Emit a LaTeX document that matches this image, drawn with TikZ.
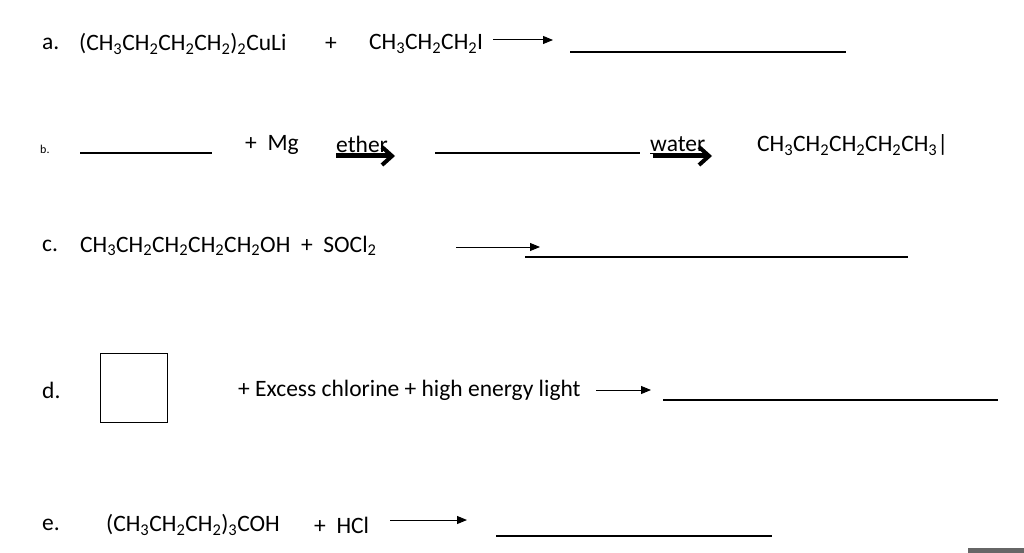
\documentclass[tikz,border=0pt]{standalone}
\usepackage{fontspec}
\setmainfont{Carlito}
\usetikzlibrary{arrows.meta}
\newcommand{\chsub}[1]{\textsubscript{#1}}
\begin{document}
\begin{tikzpicture}[x=1pt,y=-1pt,
 txt/.style={anchor=west,inner sep=0pt,font=\fontsize{23.5}{26}\selectfont},
 blank/.style={line width=1.2pt},
 arr/.style={line width=1pt,-{Triangle[length=10pt,width=8pt]}},
 thick arr/.style={line width=5pt,-{Straight Barb[length=10pt,width=18pt,line width=4pt]}}]
\useasboundingbox (0,0) rectangle (1024,553);
\fill[gray!80!black] (968,548) rectangle (1024,553);
% a
\node[txt] (la) at (42,44) {a.};
\node[txt] (a1) at (79,44) {(CH\chsub{3}CH\chsub{2}CH\chsub{2}CH\chsub{2})\chsub{2}CuLi};
\node[txt] (ap) at (325,44) {+};
\node[txt] (a2) at (369,44) {CH\chsub{3}CH\chsub{2}CH\chsub{2}I};
\coordinate (aa1) at (493,40); \coordinate (aa2) at (553,40);
\draw[arr] (aa1) -- (aa2);
\coordinate (al1) at (570,52); \coordinate (al2) at (846,52);
\draw[blank] (al1) -- (al2);
% b
\node[txt,font=\fontsize{12}{14}\selectfont] (lb) at (40,149) {b.};
\coordinate (bl1) at (80,153); \coordinate (bl2) at (212,153);
\draw[blank] (bl1) -- (bl2);
\node[txt] (bmg) at (245,145) {+~~Mg};
\node[txt] (beth) at (336,145) {\underline{ether}};
\coordinate (ba1) at (336,156); \coordinate (ba2) at (395,156);
\draw[thick arr] (ba1) -- (ba2);
\coordinate (bl3) at (435,153); \coordinate (bl4) at (640,153);
\draw[blank] (bl3) -- (bl4);
\node[txt] (bw) at (650,145) {\underline{water}};
\coordinate (bw1) at (653,156); \coordinate (bw2) at (712,156);
\draw[thick arr] (bw1) -- (bw2);
\node[txt] (bprod) at (757,145) {CH\chsub{3}CH\chsub{2}CH\chsub{2}CH\chsub{2}CH\chsub{3}|};
% c
\node[txt] (lc) at (42,246) {c.};
\node[txt] (c1) at (80,246) {CH\chsub{3}CH\chsub{2}CH\chsub{2}CH\chsub{2}CH\chsub{2}OH~~+~~SOCl\chsub{2}};
\coordinate (ca1) at (456,247); \coordinate (ca2) at (540,247);
\draw[arr] (ca1) -- (ca2);
\coordinate (cl1) at (525,257); \coordinate (cl2) at (908,257);
\draw[blank] (cl1) -- (cl2);
% d
\node[txt] (ld) at (42,390) {d.};
\node[draw,line width=1pt,minimum width=67pt,minimum height=69pt,inner sep=0pt] (box) at (133.5,387.5) {};
\node[txt] (d1) at (238,390) {+ Excess chlorine + high energy light};
\coordinate (da1) at (596,390); \coordinate (da2) at (651,390);
\draw[arr] (da1) -- (da2);
\coordinate (dl1) at (663,400); \coordinate (dl2) at (998,400);
\draw[blank] (dl1) -- (dl2);
% e
\node[txt] (le) at (42,525) {e.};
\node[txt] (e1) at (106,525) {(CH\chsub{3}CH\chsub{2}CH\chsub{2})\chsub{3}COH};
\node[txt] (e2) at (314,525) {+~~HCl};
\coordinate (ea1) at (390,520); \coordinate (ea2) at (467,520);
\draw[arr] (ea1) -- (ea2);
\coordinate (el1) at (496,536); \coordinate (el2) at (772,536);
\draw[blank] (el1) -- (el2);
\end{tikzpicture}
\end{document}
